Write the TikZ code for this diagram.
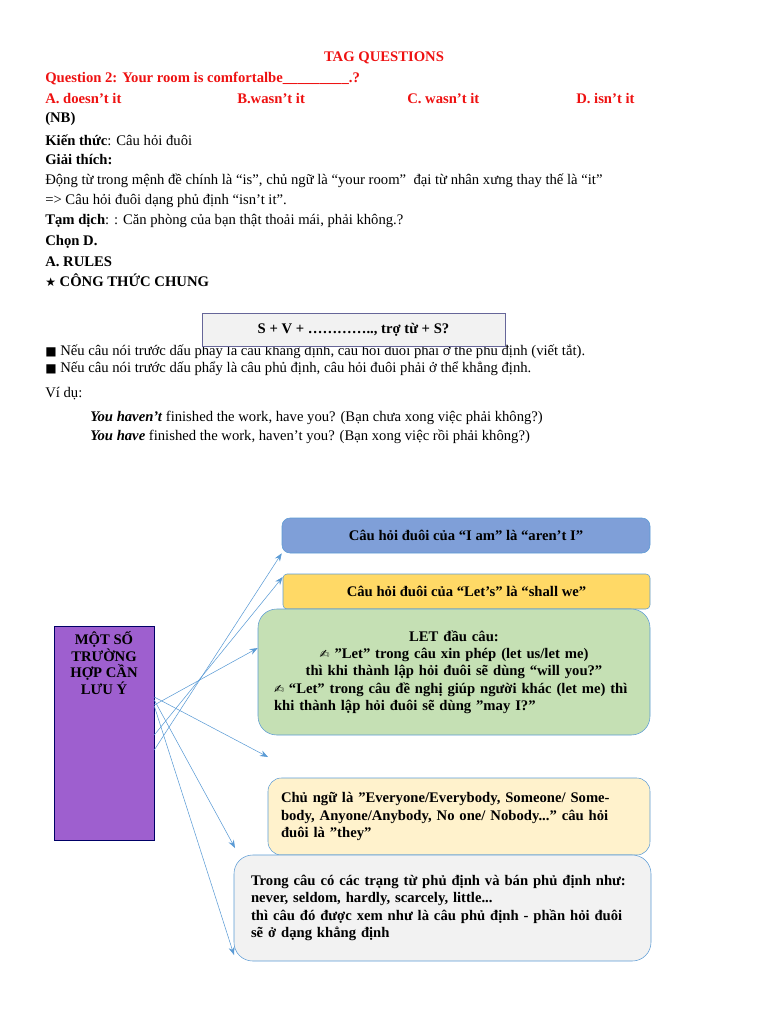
\documentclass[tikz,border=0pt]{standalone}
\usepackage{fontspec}
\setmainfont{Liberation Serif}
\newfontfamily\symfont{DejaVu Sans}
\usetikzlibrary{arrows.meta}
\definecolor{qred}{HTML}{EE1111}
\definecolor{linkblue}{HTML}{5B9BD5}
\definecolor{boxblue}{HTML}{7F9FD8}
\definecolor{boxyellow}{HTML}{FFD966}
\definecolor{boxgreen}{HTML}{C5E0B4}
\definecolor{boxcream}{HTML}{FFF2CC}
\definecolor{boxgray}{HTML}{F2F2F2}
\definecolor{boxpurple}{HTML}{9E5FCF}
\tikzset{
  txt/.style={anchor=west, inner sep=0pt, font=\fontsize{11}{13}\selectfont},
  bl/.style={txt, font=\fontsize{11}{13}\selectfont\bfseries},
  rd/.style={bl, text=qred},
  card/.style={draw=linkblue, rounded corners=6pt, font=\fontsize{11}{13}\selectfont\bfseries},
  link/.style={linkblue, -{Stealth[length=6pt]}}
}
\newcommand{\hand}{{\symfont\small ✍}}
\begin{document}
\begin{tikzpicture}[x=0.75pt, y=-0.75pt]
\useasboundingbox (0,0) rectangle (768,1024);
% header
\node[rd, anchor=center] (title) at (384,58) {TAG QUESTIONS};
\node[rd] (q) at (45,79) {Question 2: Your room is comfortalbe\_\_\_\_\_\_\_\_\_.?};
\node[rd] (oa) at (45,99) {A. doesn’t it};
\node[rd] (ob) at (237,99) {B.wasn’t it};
\node[rd] (oc) at (407,99) {C. wasn’t it};
\node[rd] (od) at (576,99) {D. isn’t it};
\node[bl] (nb) at (45,119) {(NB)};
\node[txt] (kt) at (45,140) {\textbf{Kiến thức}: Câu hỏi đuôi};
\node[bl] (gt) at (45,160) {Giải thích:};
\node[txt] (l1) at (45,181) {Động từ trong mệnh đề chính là “is”, chủ ngữ là “your room”\ \ đại từ nhân xưng thay thế là “it”};
\node[txt] (l2) at (45,201) {=> Câu hỏi đuôi dạng phủ định “isn't it”.};
\node[txt] (td) at (45,221) {\textbf{Tạm dịch}: : Căn phòng của bạn thật thoải mái, phải không.?};
\node[bl] (cd) at (45,242) {Chọn D.};
\node[bl] (ru) at (45,262) {A. RULES};
\node[bl] (ct) at (45,280) {{\symfont\small ★} CÔNG THỨC CHUNG};
% formula
\node[txt] (b1) at (45,352) {{\symfont\small ■} Nếu câu nói trước dấu phẩy là câu khẳng định, câu hỏi đuôi phải ở thể phủ định (viết tắt).};
\node[txt] (b2) at (45,369) {{\symfont\small ■} Nếu câu nói trước dấu phẩy là câu phủ định, câu hỏi đuôi phải ở thể khẳng định.};
\node[draw=gray!80!blue, fill=boxgray, minimum width=303*0.75pt, minimum height=33*0.75pt, font=\fontsize{11}{13}\selectfont\bfseries] (formula) at (353.5,329.5) {S + V + \dots\dots\dots\dots.., trợ từ + S?};
\node[txt] (vd) at (45,394) {Ví dụ:};
\node[txt] (e1) at (90,418) {\textbf{\textit{You haven't}} finished the work, have you? (Bạn chưa xong việc phải không?)};
\node[txt] (e2) at (90,437) {\textbf{\textit{You have}} finished the work, haven't you? (Bạn xong việc rồi phải không?)};
% cards
\node[card, fill=boxblue, minimum width=368*0.75pt, minimum height=35*0.75pt] (iam) at (466,535.5) {Câu hỏi đuôi của “I am” là “aren’t I”};
\node[card, fill=boxyellow, rounded corners=3pt, minimum width=367*0.75pt, minimum height=35*0.75pt] (lets) at (466.5,591.5) {Câu hỏi đuôi của “Let’s” là “shall we”};
\node[card, fill=boxgreen, rounded corners=14pt, minimum width=392*0.75pt, minimum height=126*0.75pt, text width=360*0.75pt, align=left] (let) at (454,672) {\centering LET đầu câu:\par
\hand\ "Let" trong câu xin phép (let us/let me)\\
thì khi thành lập hỏi đuôi sẽ dùng “will you?"\\
\hand\ “Let” trong câu đề nghị giúp người khác (let me) thì khi thành lập hỏi đuôi sẽ dùng "may I?"};
\node[card, fill=boxcream, rounded corners=10pt, minimum width=382*0.75pt, minimum height=77*0.75pt, text width=356*0.75pt, align=left] (every) at (459,816.5) {Chủ ngữ là "Everyone/Everybody, Someone/ Somebody, Anyone/Anybody, No one/ Nobody..." câu hỏi đuôi là "they"};
\node[card, fill=boxgray, rounded corners=14pt, minimum width=417*0.75pt, minimum height=106*0.75pt, text width=383*0.75pt, align=left] (neg) at (442.5,908) {Trong câu có các trạng từ phủ định và bán phủ định như: never, seldom, hardly, scarcely, little...\\
thì câu đó được xem như là câu phủ định - phần hỏi đuôi sẽ ở dạng khẳng định};
\node[draw=blue!40!black, fill=boxpurple, minimum width=100*0.75pt, minimum height=214*0.75pt] (main) at (104,733) {};
\node[anchor=north, align=center, font=\fontsize{11}{12.5}\selectfont\bfseries, inner sep=0pt] (mainlbl) at (104,631) {MỘT SỐ\\TRƯỜNG\\HỢP CẦN\\LƯU Ý};
% connectors
\coordinate (gap) at (268,757);
\coordinate (cream) at (235,848);
\coordinate (grey) at (234,955);
\draw[link] ([yshift=-17*0.75pt]main.east) -- (iam.south west);
\draw[link] ([yshift=-2*0.75pt]main.east) -- (lets.west |- 0,577);
\draw[link] ([yshift=28*0.75pt]main.east) -- (let.west |- 0,648);
\draw[link] ([yshift=36*0.75pt]main.east) -- (gap);
\draw[link] ([yshift=33*0.75pt]main.east) -- (cream);
\draw[link] ([yshift=27*0.75pt]main.east) -- (grey);
\end{tikzpicture}
\end{document}
